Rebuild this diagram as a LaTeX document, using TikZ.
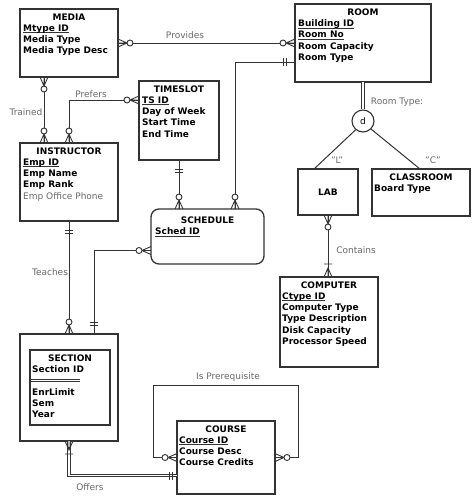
\documentclass[tikz,border=0pt]{standalone}
\usepackage{fontspec}
\setmainfont{DejaVu Sans}
\definecolor{linegray}{HTML}{333333}
\definecolor{labelgray}{HTML}{686868}

% key attribute, underlined close to the baseline
\newlength\keywd
\newcommand\keyattr[1]{\settowidth\keywd{#1}\rlap{\color{linegray}\rule[-1.6pt]{\keywd}{0.6pt}}#1}

\tikzset{
  entity/.style={draw=linegray, line width=1.3pt, rectangle, outer sep=0pt, inner sep=0pt, anchor=north west},
  enttitle/.style={inner sep=0pt, font=\fontsize{9}{11.3}\selectfont\bfseries},
  entattr/.style={inner sep=0pt, anchor=north west, align=left, font=\fontsize{9}{11.3}\selectfont\bfseries},
  rellabel/.style={inner sep=0pt, text=labelgray, text height=6.5pt, text depth=0pt, font=\fontsize{9}{11}\selectfont},
  conn/.style={draw=linegray, line width=1pt},
  % crow's foot ends, drawn along +x away from the entity
  zmany/.pic={\draw[linegray, line width=0.9pt] (0,-4) -- (9,0) -- (0,4) (0,0) -- (9,0);
    \draw[linegray, line width=0.9pt, fill=white] (12,0) circle (3);},
  onemany/.pic={\draw[linegray, line width=0.9pt] (0,-4) -- (9,0) -- (0,4) (0,0) -- (9,0) (13,-4) -- (13,4);},
  oneone/.pic={\draw[linegray, line width=0.9pt] (9,-4) -- (9,4) (12,-4) -- (12,4);},
}

\begin{document}
\begin{tikzpicture}[x=1pt, y=-1pt]
\useasboundingbox (0,0) rectangle (474,501);

% Entities
\node[entity, minimum width=98pt, minimum height=68pt] (media) at (20,9) {};
\node[enttitle] at ([yshift=-8pt]media.north) {MEDIA};
\node[entattr] at ([xshift=3pt,yshift=-15.5pt]media.north west) {\keyattr{Mtype ID}\\Media Type\\Media Type Desc};

\node[entity, minimum width=136pt, minimum height=78pt] (room) at (295,4) {};
\node[enttitle] at ([yshift=-8pt]room.north) {ROOM};
\node[entattr] at ([xshift=3pt,yshift=-15.5pt]room.north west) {\keyattr{Building ID}\\\keyattr{Room No}\\Room Capacity\\Room Type};

\node[entity, minimum width=80pt, minimum height=79pt] (timeslot) at (139,81) {};
\node[enttitle] at ([yshift=-8pt]timeslot.north) {TIMESLOT};
\node[entattr] at ([xshift=3pt,yshift=-15.5pt]timeslot.north west) {\keyattr{TS ID}\\Day of Week\\Start Time\\End Time};

\node[entity, minimum width=98pt, minimum height=78pt] (instructor) at (20,143) {};
\node[enttitle] at ([yshift=-8pt]instructor.north) {INSTRUCTOR};
\node[entattr] at ([xshift=3pt,yshift=-15.5pt]instructor.north west) {\keyattr{Emp ID}\\Emp Name\\Emp Rank\\{\mdseries\color{labelgray}Emp Office Phone}};

\node[entity, rounded corners=8pt, minimum width=113pt, minimum height=55pt] (schedule) at (151,209) {};
\node[enttitle] at ([yshift=-11pt]schedule.north) {SCHEDULE};
\node[entattr] at ([xshift=4pt,yshift=-18.5pt]schedule.north west) {\keyattr{Sched ID}};

\node[entity, minimum width=60pt, minimum height=46pt, font=\fontsize{9}{11.3}\selectfont\bfseries] (lab) at (298,169) {LAB};

\node[entity, minimum width=98pt, minimum height=47pt] (classroom) at (372,169) {};
\node[enttitle] at ([yshift=-8pt]classroom.north) {CLASSROOM};
\node[entattr] at ([xshift=2pt,yshift=-15.5pt]classroom.north west) {Board Type};

\node[entity, minimum width=98pt, minimum height=90pt] (computer) at (280,277) {};
\node[enttitle] at ([yshift=-8pt]computer.north) {COMPUTER};
\node[entattr] at ([xshift=2pt,yshift=-15.5pt]computer.north west) {\keyattr{Ctype ID}\\Computer Type\\Type Description\\Disk Capacity\\Processor Speed};

\node[entity, minimum width=98pt, minimum height=107pt] (section) at (20,334) {};
\node[entity, line width=1.1pt, minimum width=80pt, minimum height=75pt] (sectionin) at (30,350) {};
\node[enttitle] at ([yshift=-8pt]sectionin.north) {SECTION};
\node[entattr] at ([xshift=2pt,yshift=-15.5pt]sectionin.north west) {Section ID};
\draw[linegray, line width=0.9pt] ([xshift=1pt,yshift=-29pt]sectionin.north west) -- ++(49,0)
  ([xshift=1pt,yshift=-31.5pt]sectionin.north west) -- ++(49,0);
\node[entattr] at ([xshift=2pt,yshift=-38.3pt]sectionin.north west) {EnrLimit\\Sem\\Year};

\node[entity, minimum width=98pt, minimum height=73pt] (course) at (177,421) {};
\node[enttitle] at ([yshift=-8pt]course.north) {COURSE};
\node[entattr] at ([xshift=2pt,yshift=-15.5pt]course.north west) {\keyattr{Course ID}\\Course Desc\\Course Credits};

% Subtype circle
\node[draw=linegray, line width=1.1pt, circle, minimum size=22pt, inner sep=0pt, fill=white, font=\fontsize{9}{11}\selectfont] (d) at (363,121) {d};

% Relationships
\draw[conn] (media.east) pic{zmany} -- (room.west) pic[rotate=180]{zmany};
\draw[conn] ([yshift=-19pt]room.west) pic[rotate=180]{oneone} -| ([xshift=27.5pt]schedule.north) pic[rotate=90]{zmany};
\draw[conn] ([xshift=-25pt]media.south) pic[rotate=-90]{zmany} -- ([xshift=-25pt]instructor.north) pic[rotate=90]{zmany};
\draw[conn] ([yshift=20.5pt]timeslot.west) pic[rotate=180]{zmany} -| (instructor.north) pic[rotate=90]{zmany};
\draw[conn] (timeslot.south) pic[rotate=-90]{oneone} -- (timeslot.south |- schedule.north) pic[rotate=90]{zmany};
\draw[conn] (instructor.south) pic[rotate=-90]{oneone} -- (section.north) pic[rotate=90]{zmany};
\draw[conn] ([yshift=-14pt]schedule.west) pic[rotate=180]{zmany} -| ([xshift=25pt]section.north) pic[rotate=90]{oneone};
\draw[conn, double=white, double distance=1.3pt] (section.south) |- ([yshift=-18pt]course.west);
\path (section.south) pic[rotate=-90]{onemany} ([yshift=-18pt]course.west) pic[rotate=180, xshift=-4pt]{oneone};
\draw[conn] (course.west) pic[rotate=180]{zmany} -- ++(-24,0) |- ([xshift=23pt,yshift=72pt]course.east) |- (course.east) pic{zmany};
\draw[conn] (lab.south) pic[rotate=-90]{zmany} -- (lab.south |- computer.north) pic[rotate=90]{onemany};

% Subtypes of room
\draw[conn, double=white, double distance=1.5pt] (room.south) -- (d.north);
\draw[conn] (d.-130) -- ([xshift=-14pt]lab.north);
\draw[conn] (d.-45) -- ([xshift=-1pt]classroom.north);

% Labels
\node[rellabel] (provides) at (185,35) {Provides};
\node[rellabel] (trained) at (26,112) {Trained};
\node[rellabel] (prefers) at (91,94) {Prefers};
\node[rellabel] (teaches) at (50,272) {Teaches};
\node[rellabel] (offers) at (90,487) {Offers};
\node[rellabel] (isprereq) at (228,376) {Is Prerequisite};
\node[rellabel] (contains) at (356,250) {Contains};
\node[rellabel] (roomtype) at (397,101) {Room Type:};
\node[rellabel] (lablbl) at (337,160) {"L"};
\node[rellabel] (clslbl) at (433,160) {"C"};
\end{tikzpicture}
\end{document}
